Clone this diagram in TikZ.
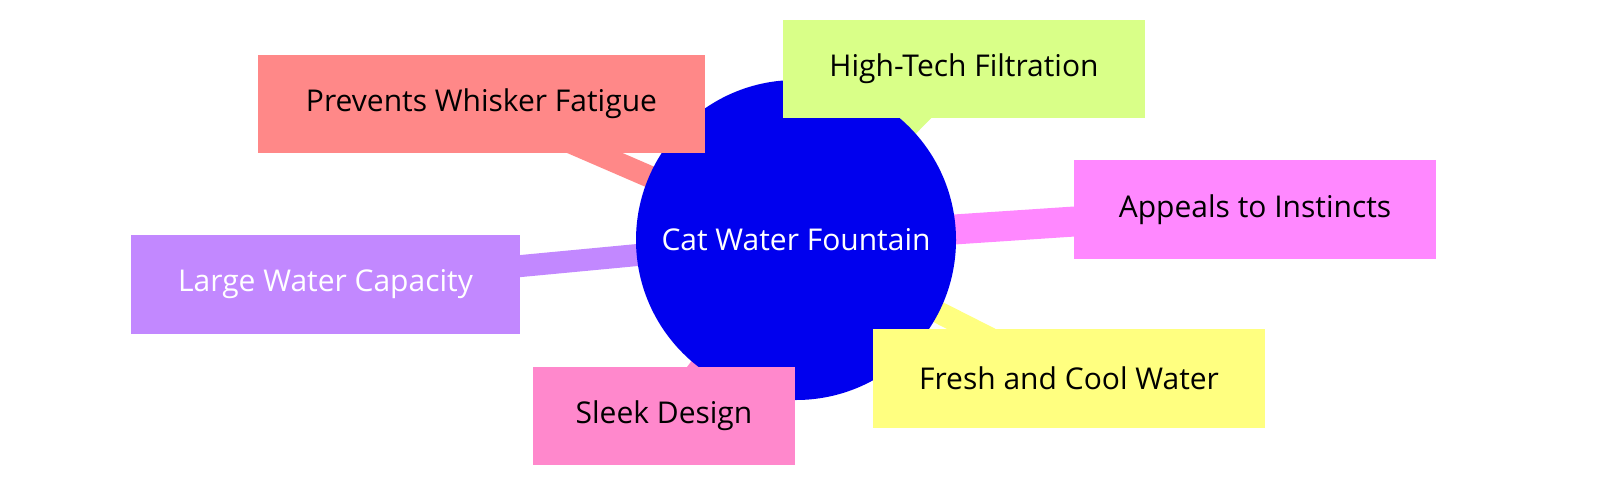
\documentclass[tikz,border=0pt]{standalone}
\usepackage{fontspec}
\setmainfont{Open Sans}
\usetikzlibrary{backgrounds}
\pgfdeclarelayer{mid}
\pgfsetlayers{background,mid,main}
\begin{document}
\begin{tikzpicture}[x=1pt,y=-1pt,
  box/.style={rectangle,inner sep=0pt,font=\fontsize{30}{36}\selectfont},
  link/.style={line width=22pt}]
\useasboundingbox (0,0) rectangle (1600,496);
\definecolor{cblue}{HTML}{0000EE}
\definecolor{csal}{HTML}{FF8888}
\definecolor{clime}{HTML}{D9FF88}
\definecolor{cmag}{HTML}{FF88FF}
\definecolor{cvio}{HTML}{C288FF}
\definecolor{cpink}{HTML}{FF88CC}
\definecolor{cyel}{HTML}{FFFF80}
\node[box,fill=csal,minimum width=447pt,minimum height=98pt] (a) at (481.5,104) {Prevents Whisker Fatigue};
\node[box,fill=clime,minimum width=362pt,minimum height=98pt] (b) at (964,69) {High-Tech Filtration};
\node[box,fill=cmag,minimum width=362pt,minimum height=99pt] (d) at (1255,209.5) {Appeals to Instincts};
\node[box,fill=cvio,text=white,minimum width=389pt,minimum height=99pt] (e) at (325.5,284.5) {Large Water Capacity};
\node[box,fill=cpink,minimum width=262pt,minimum height=98pt] (f) at (664,416) {Sleek Design};
\node[box,fill=cyel,minimum width=392pt,minimum height=99pt] (g) at (1069,378.5) {Fresh and Cool Water};
\begin{pgfonlayer}{mid}
\node[circle,fill=cblue,minimum size=320pt,inner sep=0pt,text=white,font=\fontsize{30}{36}\selectfont] (m) at (796,240) {Cat Water Fountain};
\end{pgfonlayer}
\begin{pgfonlayer}{background}
\fill[white] (0,0) rectangle (1600,496);
\draw[link,csal] (m.center) -- (a.center);
\draw[link,clime] (m.center) -- (b.center);
\draw[link,cmag,line width=30pt] (m.center) -- (d.center);
\draw[link,cvio] (m.center) -- (e.center);
\draw[link,cpink] (m.center) -- (f.center);
\draw[link,cyel] (m.center) -- (g.center);
\end{pgfonlayer}
\end{tikzpicture}
\end{document}
